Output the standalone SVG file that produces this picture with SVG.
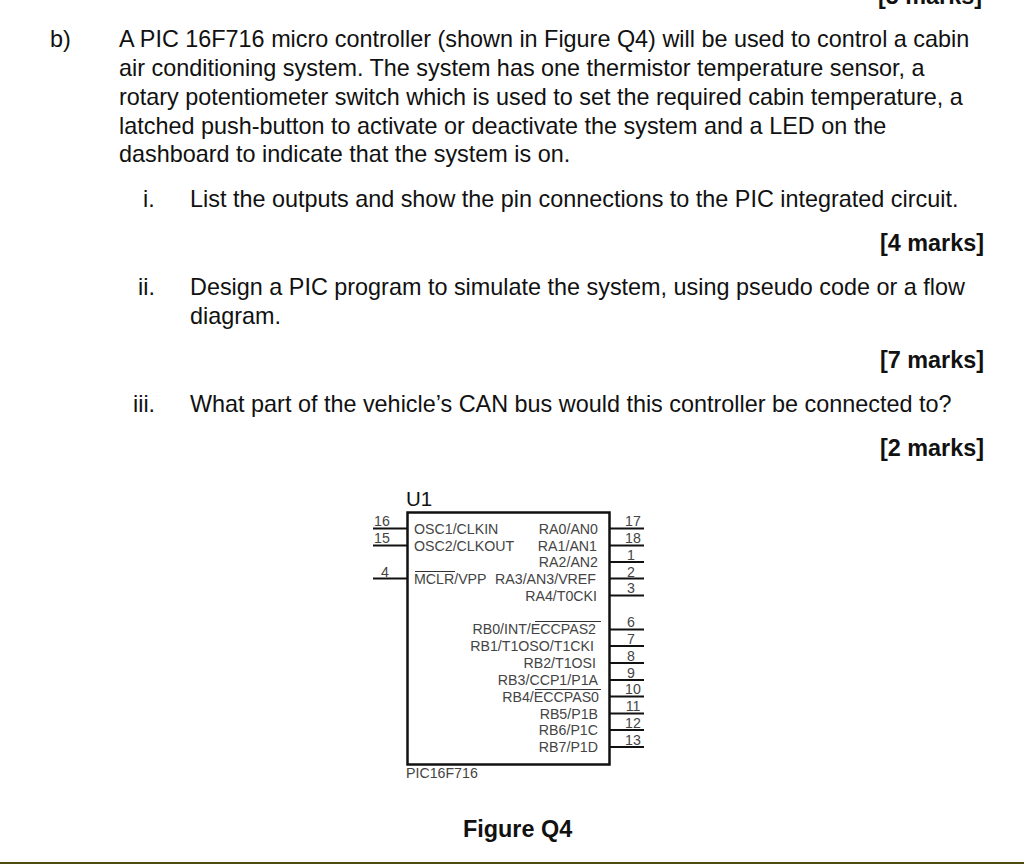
<svg xmlns="http://www.w3.org/2000/svg" width="1024" height="864" viewBox="0 0 1024 864">
<style>
text{font-family:"Liberation Sans",Arial,sans-serif;fill:#111}
.t{font-size:23.4px}
.b{font-size:23.4px;font-weight:bold}
.l{font-size:14.2px;fill:#444}
.r{font-size:14.2px;fill:#444;text-anchor:end}
.n{font-size:14.2px;fill:#444;text-anchor:middle}
.p{stroke:#111;stroke-width:2;fill:none}
.o{stroke:#333;stroke-width:1;fill:none}
</style>
<rect width="1024" height="864" fill="#fff"/>
<g id="question">
<text class="b" x="878" y="4">[5 marks]</text>
<text class="t" x="50" y="47">b)</text>
<text class="t" x="119" y="47">A PIC 16F716 micro controller (shown in Figure Q4) will be used to control a cabin</text>
<text class="t" x="119" y="76">air conditioning system.  The system has one thermistor temperature sensor, a</text>
<text class="t" x="119" y="105">rotary potentiometer switch which is used to set the required cabin temperature, a</text>
<text class="t" x="119" y="134">latched push-button to activate or deactivate the system and a LED on the</text>
<text class="t" x="119" y="162">dashboard to indicate that the system is on.</text>
<text class="t" x="143" y="207">i.</text>
<text class="t" x="190" y="207">List the outputs and show the pin connections to the PIC integrated circuit.</text>
<text class="b" x="880" y="251">[4 marks]</text>
<text class="t" x="138" y="295">ii.</text>
<text class="t" x="190" y="295">Design a PIC program to simulate the system, using pseudo code or a flow</text>
<text class="t" x="190" y="324">diagram.</text>
<text class="b" x="880" y="368">[7 marks]</text>
<text class="t" x="133" y="412">iii.</text>
<text class="t" x="190" y="412">What part of the vehicle’s CAN bus would this controller be connected to?</text>
<text class="b" x="880" y="456">[2 marks]</text>
<text class="b" x="463" y="837">Figure Q4</text>
</g>
<g id="rule"><rect x="0" y="862" width="1024" height="2" fill="#4f4a10"/></g>
<g id="U1">
<rect x="407.500" y="512.500" width="202" height="252" fill="#fff" stroke="#111" stroke-width="2.500"/>
<text x="406" y="506" font-size="20.500" style="font-size:20.500px">U1</text>
<text class="l" x="406" y="778">PIC16F716</text>
<text class="l" x="414" y="534">OSC1/CLKIN</text>
<text class="l" x="414" y="551">OSC2/CLKOUT</text>
<text class="l" x="414" y="584">MCLR/VPP</text>
<path class="o" d="M415 571.500H455"/>
<text class="r" x="598" y="534">RA0/AN0</text>
<text class="r" x="597" y="551">RA1/AN1</text>
<text class="r" x="598" y="567">RA2/AN2</text>
<text class="r" x="596" y="584">RA3/AN3/VREF</text>
<text class="r" x="597" y="601">RA4/T0CKI</text>
<text class="r" x="596" y="634">RB0/INT/ECCPAS2</text>
<path class="o" d="M535 621.500H601"/>
<text class="r" x="594" y="651">RB1/T1OSO/T1CKI</text>
<text class="r" x="596" y="668">RB2/T1OSI</text>
<text class="r" x="598" y="685">RB3/CCP1/P1A</text>
<text class="r" x="599" y="702">RB4/ECCPAS0</text>
<path class="o" d="M535 689.500H601"/>
<text class="r" x="598" y="719">RB5/P1B</text>
<text class="r" x="598" y="735">RB6/P1C</text>
<text class="r" x="598" y="752">RB7/P1D</text>
</g>
<g id="connectors">
<path class="p" d="M373 528.500H407M373 545.500H407M373 578.500H407"/>
<path class="p" d="M609 528.500H644M609 545.500H644M609 562H644M609 578.500H644M609 595.500H644M609 629.500H644M609 646H644M609 663H644M609 680H644M609 696.500H644M609 713.500H644M609 730H644M609 747H644"/>
</g>
<g id="pins">
<text class="n" x="382" y="526">16</text>
<text class="n" x="382" y="543">15</text>
<text class="n" x="385" y="577">4</text>
<text class="n" x="633" y="526">17</text>
<text class="n" x="633" y="543">18</text>
<text class="n" x="631" y="560">1</text>
<text class="n" x="631" y="577">2</text>
<text class="n" x="631" y="593">3</text>
<text class="n" x="631" y="627">6</text>
<text class="n" x="631" y="644">7</text>
<text class="n" x="631" y="661">8</text>
<text class="n" x="631" y="678">9</text>
<text class="n" x="633" y="694">10</text>
<text class="n" x="633" y="711">11</text>
<text class="n" x="633" y="728">12</text>
<text class="n" x="633" y="745">13</text>
</g>
</svg>
